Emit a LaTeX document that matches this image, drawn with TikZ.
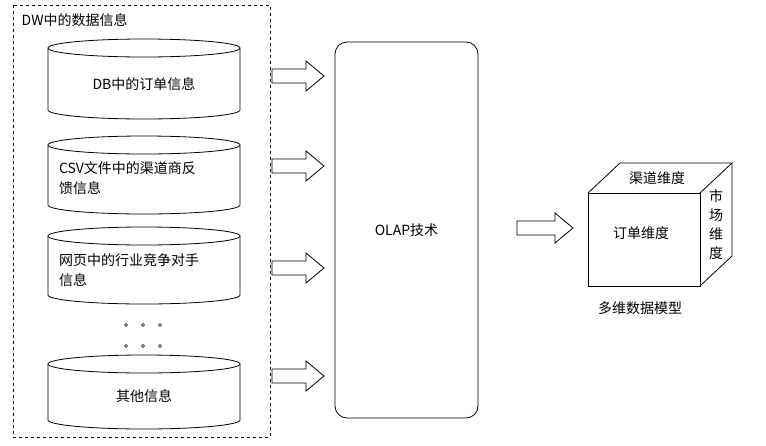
\documentclass[tikz,border=0pt]{standalone}
\usepackage{fontspec}
\setmainfont{Noto Sans CJK SC}
\begin{document}
\begin{tikzpicture}[x=1pt,y=-1pt,line width=0.8pt,
  txt/.style={font=\fontsize{14}{18}\selectfont, align=center},
  ctxt/.style={font=\fontsize{14}{20}\selectfont, align=left, text width=178pt},
  dot/.style={circle, draw, inner sep=0pt, minimum size=3pt, line width=0.6pt}]
\useasboundingbox (0,0) rectangle (766,445);
\newcommand{\blockarrow}[3]{%
  \draw (#1,#3-7) -- (#2-18,#3-7) -- (#2-18,#3-15) -- (#2,#3) -- (#2-18,#3+15) -- (#2-18,#3+7) -- (#1,#3+7) -- cycle;}
\newcommand{\mycyl}[2]{% ytop ybot
  \draw (144,#1) ellipse [x radius=96pt, y radius=9pt];
  \draw (48,#1) -- (48,#2) arc[start angle=180, end angle=360, x radius=96pt, y radius=9pt] -- (240,#1);}
\draw[dashed] (13,5) rectangle (270,437);
\node[anchor=west, txt] (dw) at (18,20) {DW中的数据信息};
\mycyl{48}{110}
\mycyl{145}{205}
\mycyl{236}{295}
\mycyl{364}{420}
\node[txt] (t1) at (144,84) {DB中的订单信息};
\node[ctxt] (t2) at (148,178) {CSV文件中的渠道商反\\馈信息};
\node[ctxt] (t3) at (148,270) {网页中的行业竞争对手\\信息};
\node[txt] (t4) at (144,396) {其他信息};
\foreach \x in {126,143,160}{\foreach \y in {325,346}{\node[dot] at (\x,\y) {};}}
\node[draw, rounded corners=12pt, minimum width=143pt, minimum height=376pt, txt] (olap) at (406.5,230) {OLAP技术};
\blockarrow{272}{324}{76}
\blockarrow{272}{324}{166}
\blockarrow{272}{324}{268}
\blockarrow{272}{324}{376}
\blockarrow{517}{573}{228}
\coordinate (f1) at (588,193); \coordinate (f2) at (700,193);
\coordinate (f3) at (700,286); \coordinate (f4) at (588,286);
\draw (f1) rectangle (f3);
\draw (f1) -- ++(32,-30) -- ++(112,0) -- (f2);
\draw (732,163) -- (732,256) -- (f3);
\node[txt] (front) at (641,233) {订单维度};
\node[txt] (top) at (657,178) {渠道维度};
\node[font=\fontsize{14}{19}\selectfont, align=center] (side) at (716,225) {市\\场\\维\\度};
\node[txt] (model) at (640,308) {多维数据模型};
\end{tikzpicture}
\end{document}
